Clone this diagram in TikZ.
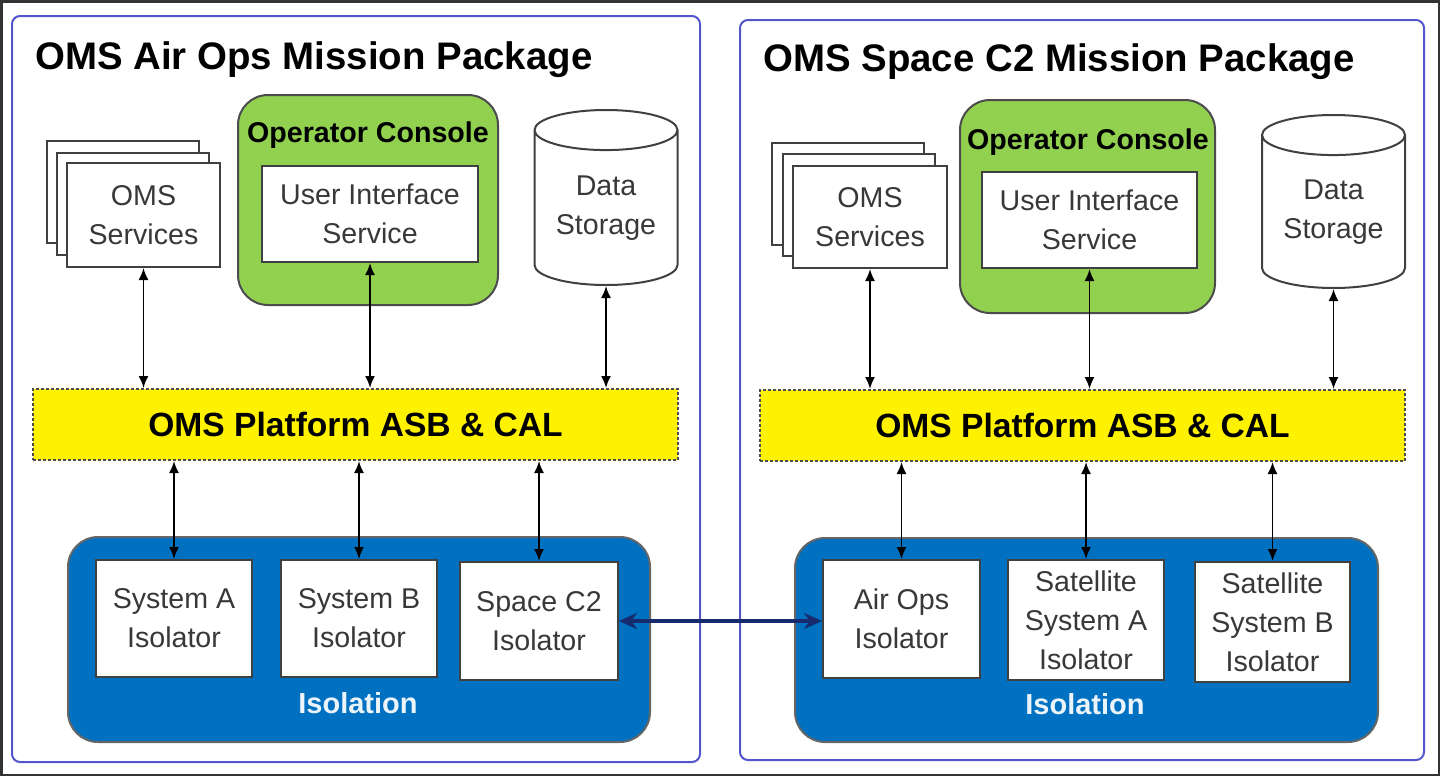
\documentclass[tikz,border=0pt]{standalone}
\usepackage{fontspec}
\setmainfont{Liberation Sans}
\usetikzlibrary{shapes.geometric,arrows.meta}

\definecolor{pkgblue}{RGB}{84,84,204}
\definecolor{consolegreen}{RGB}{146,208,80}
\definecolor{isoblue}{RGB}{0,112,192}
\definecolor{linknavy}{RGB}{22,42,110}

\tikzstyle{pkg}=[draw=pkgblue, line width=1pt, rounded corners=4pt]
\tikzstyle{pkgtitle}=[anchor=west, inner sep=0pt, font=\fontsize{19.2}{23}\selectfont\bfseries]
\tikzstyle{textbox}=[draw=black!75, line width=1pt, fill=white, text=black!78, align=center, inner sep=0pt, font=\fontsize{14.3}{19.5}\selectfont]
\tikzstyle{console}=[draw=black!70, line width=1pt, fill=consolegreen, rounded corners=15pt]
\tikzstyle{consoletitle}=[inner sep=0pt, font=\fontsize{14.3}{17}\selectfont\bfseries]
\tikzstyle{storage}=[cylinder, shape border rotate=90, aspect=0.4, anchor=shape center, draw=black!75, line width=1pt, fill=white, text=black!78, align=center, inner sep=0pt, font=\fontsize{14.3}{19.5}\selectfont]
\tikzstyle{platform}=[draw=black!70, line width=1pt, dash pattern=on 1.5pt off 1pt, fill=yellow, inner sep=0pt, font=\fontsize{16.8}{20}\selectfont\bfseries]
\tikzstyle{isolation}=[draw=black!60, line width=1pt, fill=isoblue, rounded corners=15pt]
\tikzstyle{isolabel}=[text=white!92!isoblue, inner sep=0pt, font=\fontsize{14.5}{17}\selectfont\bfseries]
\tikzstyle{link}=[<->, >={Latex[length=6pt,width=5pt]}, line width=0.9pt]
\tikzstyle{bridge}=[<->, >={Stealth[length=9pt,width=8pt]}, draw=linknavy, line width=1.8pt]

\begin{document}
\begin{tikzpicture}[x=0.5pt, y=-0.5pt]
\useasboundingbox (0,0) rectangle (1440,776);
\draw[black!80, line width=1.5pt] (1,1) rectangle (1439,775);

% Air Ops package
\draw[pkg] (12,16) rectangle (700,762);
\node[pkgtitle] (titleL) at (35,60) {OMS Air Ops Mission Package};

\node[textbox, minimum width=76pt, minimum height=51pt] (svcLb) at (122.5,192) {};
\node[textbox, minimum width=76pt, minimum height=51pt] (svcLm) at (133,203.5) {};
\node[textbox, minimum width=76.5pt, minimum height=52pt] (svcL) at (143.5,215) {OMS\\Services};

\node[console, minimum width=130pt, minimum height=105pt] (conL) at (368,200) {};
\node[consoletitle] (conLt) at (368,135) {Operator Console};
\node[textbox, minimum width=108pt, minimum height=48pt] (uiL) at (370,214) {User Interface\\Service};

\node[storage, minimum width=71.5pt, minimum height=87.5pt] (dsL) at (606,197.5) {Data\\Storage};

\node[platform, minimum width=322.5pt, minimum height=35.5pt] (platL) at (355.5,424.5) {OMS Platform ASB \& CAL};

\node[isolation, minimum width=291pt, minimum height=102.5pt] (isoL) at (359,639.5) {};
\node[textbox, minimum width=78pt, minimum height=58.5pt] (sysA) at (174,618.5) {System A\\Isolator};
\node[textbox, minimum width=78pt, minimum height=58.5pt] (sysB) at (359,618.5) {System B\\Isolator};
\node[textbox, minimum width=79pt, minimum height=59pt] (scIso) at (539,621) {Space C2\\Isolator};
\node[isolabel] (isoLt) at (358,703) {Isolation};

\draw[link] (svcL.south) -- (svcL.south |- platL.north);
\draw[link] (uiL.south) -- (uiL.south |- platL.north);
\draw[link] (dsL.south) -- (dsL.south |- platL.north);
\draw[link] (platL.south -| sysA.north) -- (sysA.north);
\draw[link] (platL.south -| sysB.north) -- (sysB.north);
\draw[link] (platL.south -| scIso.north) -- (scIso.north);

% Space C2 package
\draw[pkg] (740,20) rectangle (1424,760);
\node[pkgtitle] (titleR) at (763,62) {OMS Space C2 Mission Package};

\node[textbox, minimum width=76pt, minimum height=51pt] (svcRb) at (848,193.5) {};
\node[textbox, minimum width=76pt, minimum height=51pt] (svcRm) at (859,205) {};
\node[textbox, minimum width=77pt, minimum height=51pt] (svcR) at (870,217) {OMS\\Services};

\node[console, minimum width=127.5pt, minimum height=106.5pt] (conR) at (1087.5,206.5) {};
\node[consoletitle] (conRt) at (1088,142) {Operator Console};
\node[textbox, minimum width=107.5pt, minimum height=48pt] (uiR) at (1089.5,220) {User Interface\\Service};

\node[storage, minimum width=71.5pt, minimum height=86.5pt] (dsR) at (1333.5,201.5) {Data\\Storage};

\node[platform, minimum width=322.5pt, minimum height=35.5pt] (platR) at (1082.5,425.5) {OMS Platform ASB \& CAL};

\node[isolation, minimum width=291.5pt, minimum height=102pt] (isoR) at (1086.5,640) {};
\node[textbox, minimum width=78.5pt, minimum height=59pt] (airIso) at (901.5,619) {Air Ops\\Isolator};
\node[textbox, minimum width=78pt, minimum height=60pt] (satA) at (1086,620) {Satellite\\System A\\Isolator};
\node[textbox, minimum width=77.5pt, minimum height=60pt] (satB) at (1272.5,622) {Satellite\\System B\\Isolator};
\node[isolabel] (isoRt) at (1085,704) {Isolation};

\draw[link] (svcR.south) -- (svcR.south |- platR.north);
\draw[link] (uiR.south) -- (uiR.south |- platR.north);
\draw[link] (dsR.south) -- (dsR.south |- platR.north);
\draw[link] (platR.south -| airIso.north) -- (airIso.north);
\draw[link] (platR.south -| satA.north) -- (satA.north);
\draw[link] (platR.south -| satB.north) -- (satB.north);

% between the two isolation layers
\draw[bridge] (scIso.east) -- (scIso.east -| airIso.west);
\end{tikzpicture}
\end{document}
